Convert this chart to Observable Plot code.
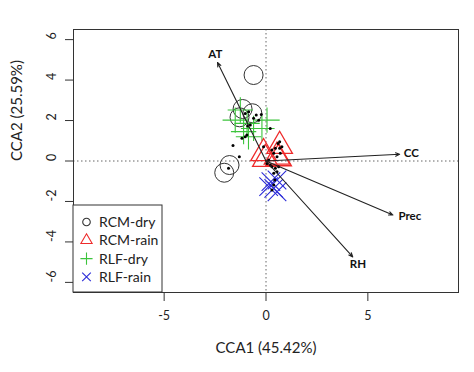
<!DOCTYPE html>
<html><head><meta charset="utf-8">
<script src="https://cdn.jsdelivr.net/npm/d3@7"></script>
<script src="https://cdn.jsdelivr.net/npm/@observablehq/plot@0.6"></script>
<style>
body{margin:0;background:#fff;}
#chart svg{display:block;}
</style>
</head><body><div id="chart"></div>
<script>
// CCA site scores by group
const rcmDry = [[-0.61,4.25],[-1.15,2.57],[-1.30,2.16],[-0.67,2.36],[-1.79,-0.20],[-2.05,-0.58]];
const rcmRain = [[0.67,0.74],[-0.12,0.38],[0.62,0.13],[0.54,0.21],[-0.03,0.10]];
const rlfDry = [[-1.26,2.52],[-1.51,2.02],[-0.93,1.86],[-0.61,1.61],[0.05,2.02],[-1.10,1.45],[-0.86,1.20],[-0.20,1.61]];
const rlfRain = [[0.24,-1.02],[0.54,-0.94],[0.38,-1.35],[0.54,-1.52],[0.13,-1.27]];
// species scores
const species = [[-0.23,2.30],[-0.48,2.27],[-0.90,1.73],[-0.77,1.78],[-0.94,1.28],[-1.18,1.12],[-1.02,1.20],
 [-1.62,0.76],[-1.31,0.21],[0.21,1.61],[-0.12,0.71],[0.29,0.54],[0.38,0.38],[0.59,0.87],[0.67,0.63],
 [0.46,0.63],[0.70,0.38],[0.54,0.21],[0.13,0.05],[0.05,-0.12],[0.21,-0.20],[0.29,-0.28],[0.46,-0.36],
 [0.62,-0.28],[0.38,-0.61],[0.54,-0.53],[0.43,-0.94],[0.38,-1.19],[0.29,-1.43],[-1.84,-0.36],
 [-0.61,2.11],[-0.85,2.44],[-1.02,2.35],[-0.36,2.02],[0.78,0.71],[0.67,0.95]];
// environmental vectors
const envNames = ["AT","CC","Prec","RH"];
const envX = [-2.38,6.56,6.23,4.26];
const envY = [4.87,0.33,-2.67,-4.74];
const envLabelX = [-2.49,7.13,7.06,4.51];
const envLabelY = [5.28,0.36,-2.75,-5.10];
const xTicks = [-5,0,5];
const yTicks = [-6,-4,-2,0,2,4,6];
const groups = ["RCM-dry","RCM-rain","RLF-dry","RLF-rain"];
const colors = ["#333333","#ee2b2b","#3cc43c","#2b2bd8"];

const env = envNames.map((n,i)=>({name:n,x:envX[i],y:envY[i],lx:envLabelX[i],ly:envLabelY[i]}));
const W=474, H=372, mL=73, mR=16, mT=29, mB=80;
const font = "Lato, 'Open Sans', sans-serif";

const plot = Plot.plot({
  width: W, height: H, marginLeft: mL, marginRight: mR, marginTop: mT, marginBottom: mB,
  style: {fontFamily: font, background: "#fff", color: "#222"},
  x: {domain: [-9.45, 9.45]},
  y: {domain: [-6.5, 6.5]},
  marks: [
    Plot.ruleX([0], {stroke: "#666", strokeDasharray: "1.5,2.5", strokeWidth: 1}),
    Plot.ruleY([0], {stroke: "#666", strokeDasharray: "1.5,2.5", strokeWidth: 1}),
    Plot.axisX({ticks: xTicks, tickSize: 9, tickPadding: 10, tickFormat: d => String(d), fontSize: 12.5, label: null, stroke: "#333"}),
    Plot.axisY({ticks: yTicks, tickSize: 8, tickFormat: () => "", label: null, stroke: "#333"}),
    Plot.text(yTicks, {y: d => d, text: d => String(d), frameAnchor: "left", dx: -22, rotate: -90, fontSize: 12.5, fill: "#222"}),
    Plot.text(["CCA1 (45.42%)"], {frameAnchor: "bottom", dy: 60, text: d => d, fontSize: 15, fill: "#222"}),
    Plot.text(["CCA2 (25.59%)"], {frameAnchor: "left", dx: -56, rotate: -90, text: d => d, fontSize: 15, fill: "#222"}),
    Plot.dot(rcmDry, {x: d => d[0], y: d => d[1], r: 9.5, stroke: colors[0], fill: "none", strokeWidth: 1}),
    Plot.dot(rlfDry, {x: d => d[0], y: d => d[1], r: 8.2, symbol: "plus", stroke: colors[2], fill: "none", strokeWidth: 1.1}),
    Plot.dot(rcmRain, {x: d => d[0], y: d => d[1], r: 9.5, symbol: "triangle", stroke: colors[1], fill: "none", strokeWidth: 1.3}),
    Plot.dot(rlfRain, {x: d => d[0], y: d => d[1], r: 8.5, symbol: "times", stroke: colors[3], fill: "none", strokeWidth: 1.1}),
    Plot.dot(species, {x: d => d[0], y: d => d[1], r: 1.5, fill: "#000", stroke: "none"}),
    Plot.arrow(env, {x1: 0, y1: 0, x2: "x", y2: "y", stroke: "#222", strokeWidth: 1.1, headLength: 6, headAngle: 45}),
    Plot.text(env, {x: "lx", y: "ly", text: "name", fontWeight: "bold", fontSize: 11.5, fill: "#111"}),
    Plot.frame({stroke: "#333", strokeWidth: 1})
  ]
});

// legend (bottom-left inside frame)
const svg = d3.select(plot);
const lx0 = mL, lbot = H - mB, lw = 89, lh = 87;
const g = svg.append("g").attr("font-family", font).attr("text-anchor", "start");
g.append("rect").attr("x", lx0).attr("y", lbot - lh).attr("width", lw).attr("height", lh)
  .attr("fill", "#fff").attr("stroke", "#333").attr("stroke-width", 1);
const syms = [d3.symbolCircle, d3.symbolTriangle, d3.symbolPlus, d3.symbolTimes];
const sizes = [45, 55, 50, 50];
groups.forEach((name, i) => {
  const yy = lbot - lh + 17 + i * 18.3;
  g.append("path").attr("d", d3.symbol(syms[i], sizes[i])())
    .attr("transform", `translate(${lx0 + 13.5},${yy})`)
    .attr("fill", "none").attr("stroke", colors[i]).attr("stroke-width", 1.1);
  g.append("text").attr("x", lx0 + 26).attr("y", yy).attr("dy", "0.35em")
    .attr("font-size", 14).attr("fill", "#222").text(name);
});

document.getElementById("chart").appendChild(plot);
</script>
</body></html>
